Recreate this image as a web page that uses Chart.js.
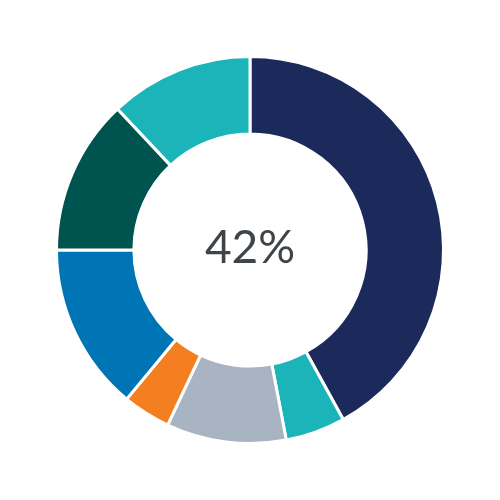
<!DOCTYPE html>
<html>
<head>
<meta charset="utf-8">
<script src="https://cdn.jsdelivr.net/npm/chart.js@4"></script>
<style>
  html, body { margin: 0; padding: 0; background: #ffffff; }
  #wrap { width: 500px; height: 500px; }
</style>
</head>
<body>
<div id="wrap"><canvas id="donutChart"></canvas></div>
<script>
// segment data, clockwise from 12 o'clock
var labels = ["Navy", "Teal A", "Gray", "Orange", "Blue", "Dark green", "Teal B"];
var values = [42, 5, 10, 4, 14, 13, 12];
var colors = ["#1b2a5a", "#1bb5b9", "#a9b4c2", "#f47f20", "#0075b5", "#005450", "#1bb5b9"];
var centerLabel = "42%";

// draw the big number in the hole
var centerText = {
    id: 'centerText',
    afterDraw: function (chart) {
        var ctx = chart.ctx;
        var meta = chart.getDatasetMeta(0).data[0];
        ctx.save();
        ctx.font = '46px Lato';
        ctx.fillStyle = '#3e4449';
        ctx.textAlign = 'center';
        ctx.textBaseline = 'middle';
        ctx.fillText(centerLabel, meta.x, meta.y - 2);
        ctx.restore();
    }
};

var ctx = document.getElementById("donutChart").getContext('2d');
var donut = new Chart(ctx, {
    type: 'doughnut',
    data: {
        labels: labels,
        datasets: [{
            data: values,
            backgroundColor: colors,
            borderColor: '#ffffff',
            borderWidth: 3
        }]
    },
    options: {
        responsive: true,
        maintainAspectRatio: false,
        animation: false,
        cutout: '60%',
        layout: { padding: 55 },
        plugins: {
            legend: { display: false },
            tooltip: { enabled: false }
        }
    },
    plugins: [centerText]
});
</script>
</body>
</html>
